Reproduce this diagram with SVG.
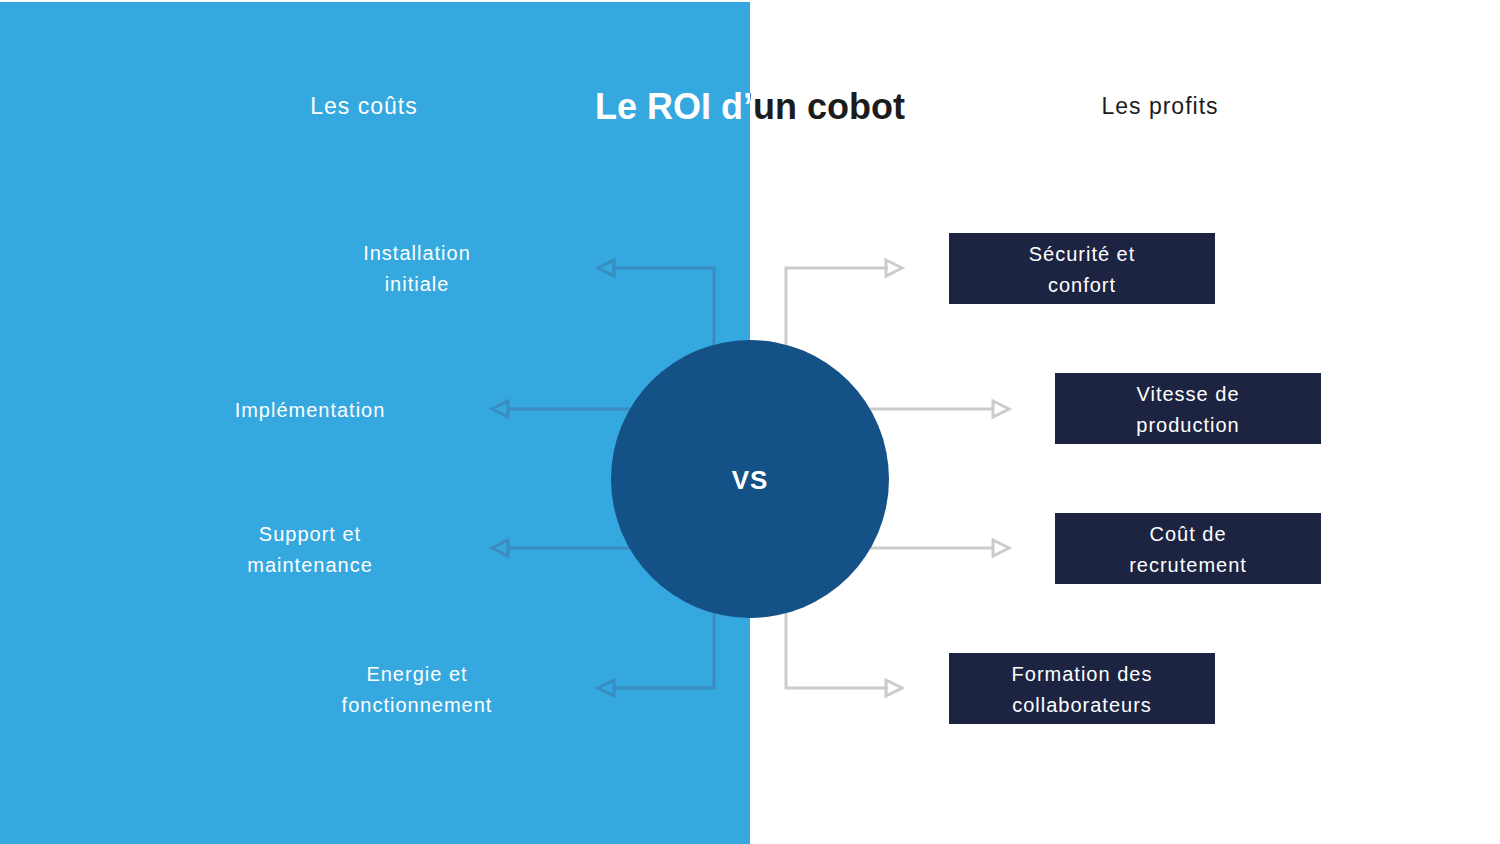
<svg xmlns="http://www.w3.org/2000/svg" width="1500" height="844" viewBox="0 0 1500 844">
<style>
.t{font-family:"Liberation Sans",Arial,sans-serif;font-size:20px;letter-spacing:1px;text-anchor:middle}
.w{fill:#ffffff}
.title{font-family:"Liberation Sans",Arial,sans-serif;font-size:36px;font-weight:bold;text-anchor:middle}
.lc{fill:none;stroke:#3b8cc0;stroke-width:3}
.rc{fill:none;stroke:#cccccc;stroke-width:3}
.box{fill:#1d2442}
</style>
<defs>
<clipPath id="cl"><rect x="0" y="0" width="750" height="844"/></clipPath>
<clipPath id="cr"><rect x="750" y="0" width="750" height="844"/></clipPath>
</defs>
<rect width="1500" height="844" fill="#ffffff"/>
<rect x="0" y="2" width="750" height="842" fill="#35a8df"/>
<g id="title">
<text class="title" x="750" y="119" fill="#ffffff" clip-path="url(#cl)">Le ROI d’un cobot</text>
<text class="title" x="750" y="119" fill="#1c1c1c" clip-path="url(#cr)">Le ROI d’un cobot</text>
</g>
<text class="t w" x="364" y="114" style="font-size:23px">Les coûts</text>
<text class="t" x="1160" y="114" fill="#1c1c1c" style="font-size:23px">Les profits</text>
<g id="connectors">
<path class="lc" d="M714 345V268H612"/><path class="lc" d="M614 260L598 268L614 276Z"/>
<path class="lc" d="M630 409H506"/><path class="lc" d="M508 401L492 409L508 417Z"/>
<path class="lc" d="M630 548H506"/><path class="lc" d="M508 540L492 548L508 556Z"/>
<path class="lc" d="M714 612V688H612"/><path class="lc" d="M614 680L598 688L614 696Z"/>
<path class="rc" d="M786 345V268H888"/><path class="rc" d="M886 260L902 268L886 276Z"/>
<path class="rc" d="M870 409H994"/><path class="rc" d="M993 401L1009 409L993 417Z"/>
<path class="rc" d="M870 548H994"/><path class="rc" d="M993 540L1009 548L993 556Z"/>
<path class="rc" d="M786 612V688H888"/><path class="rc" d="M886 680L902 688L886 696Z"/>
</g>
<g id="vs"><circle cx="750" cy="479" r="139" fill="#145186"/><text class="t w" x="750" y="489" style="font-size:26px;font-weight:bold">VS</text></g>
<g id="c1"><text class="t w" x="417" y="260">Installation</text><text class="t w" x="417" y="291">initiale</text></g>
<g id="c2"><text class="t w" x="310" y="417">Implémentation</text></g>
<g id="c3"><text class="t w" x="310" y="541">Support et</text><text class="t w" x="310" y="572">maintenance</text></g>
<g id="c4"><text class="t w" x="417" y="681">Energie et</text><text class="t w" x="417" y="712">fonctionnement</text></g>
<g id="p1"><rect class="box" x="949" y="233" width="266" height="71"/><text class="t w" x="1082" y="261">Sécurité et</text><text class="t w" x="1082" y="292">confort</text></g>
<g id="p2"><rect class="box" x="1055" y="373" width="266" height="71"/><text class="t w" x="1188" y="401">Vitesse de</text><text class="t w" x="1188" y="432">production</text></g>
<g id="p3"><rect class="box" x="1055" y="513" width="266" height="71"/><text class="t w" x="1188" y="541">Coût de</text><text class="t w" x="1188" y="572">recrutement</text></g>
<g id="p4"><rect class="box" x="949" y="653" width="266" height="71"/><text class="t w" x="1082" y="681">Formation des</text><text class="t w" x="1082" y="712">collaborateurs</text></g>
</svg>
